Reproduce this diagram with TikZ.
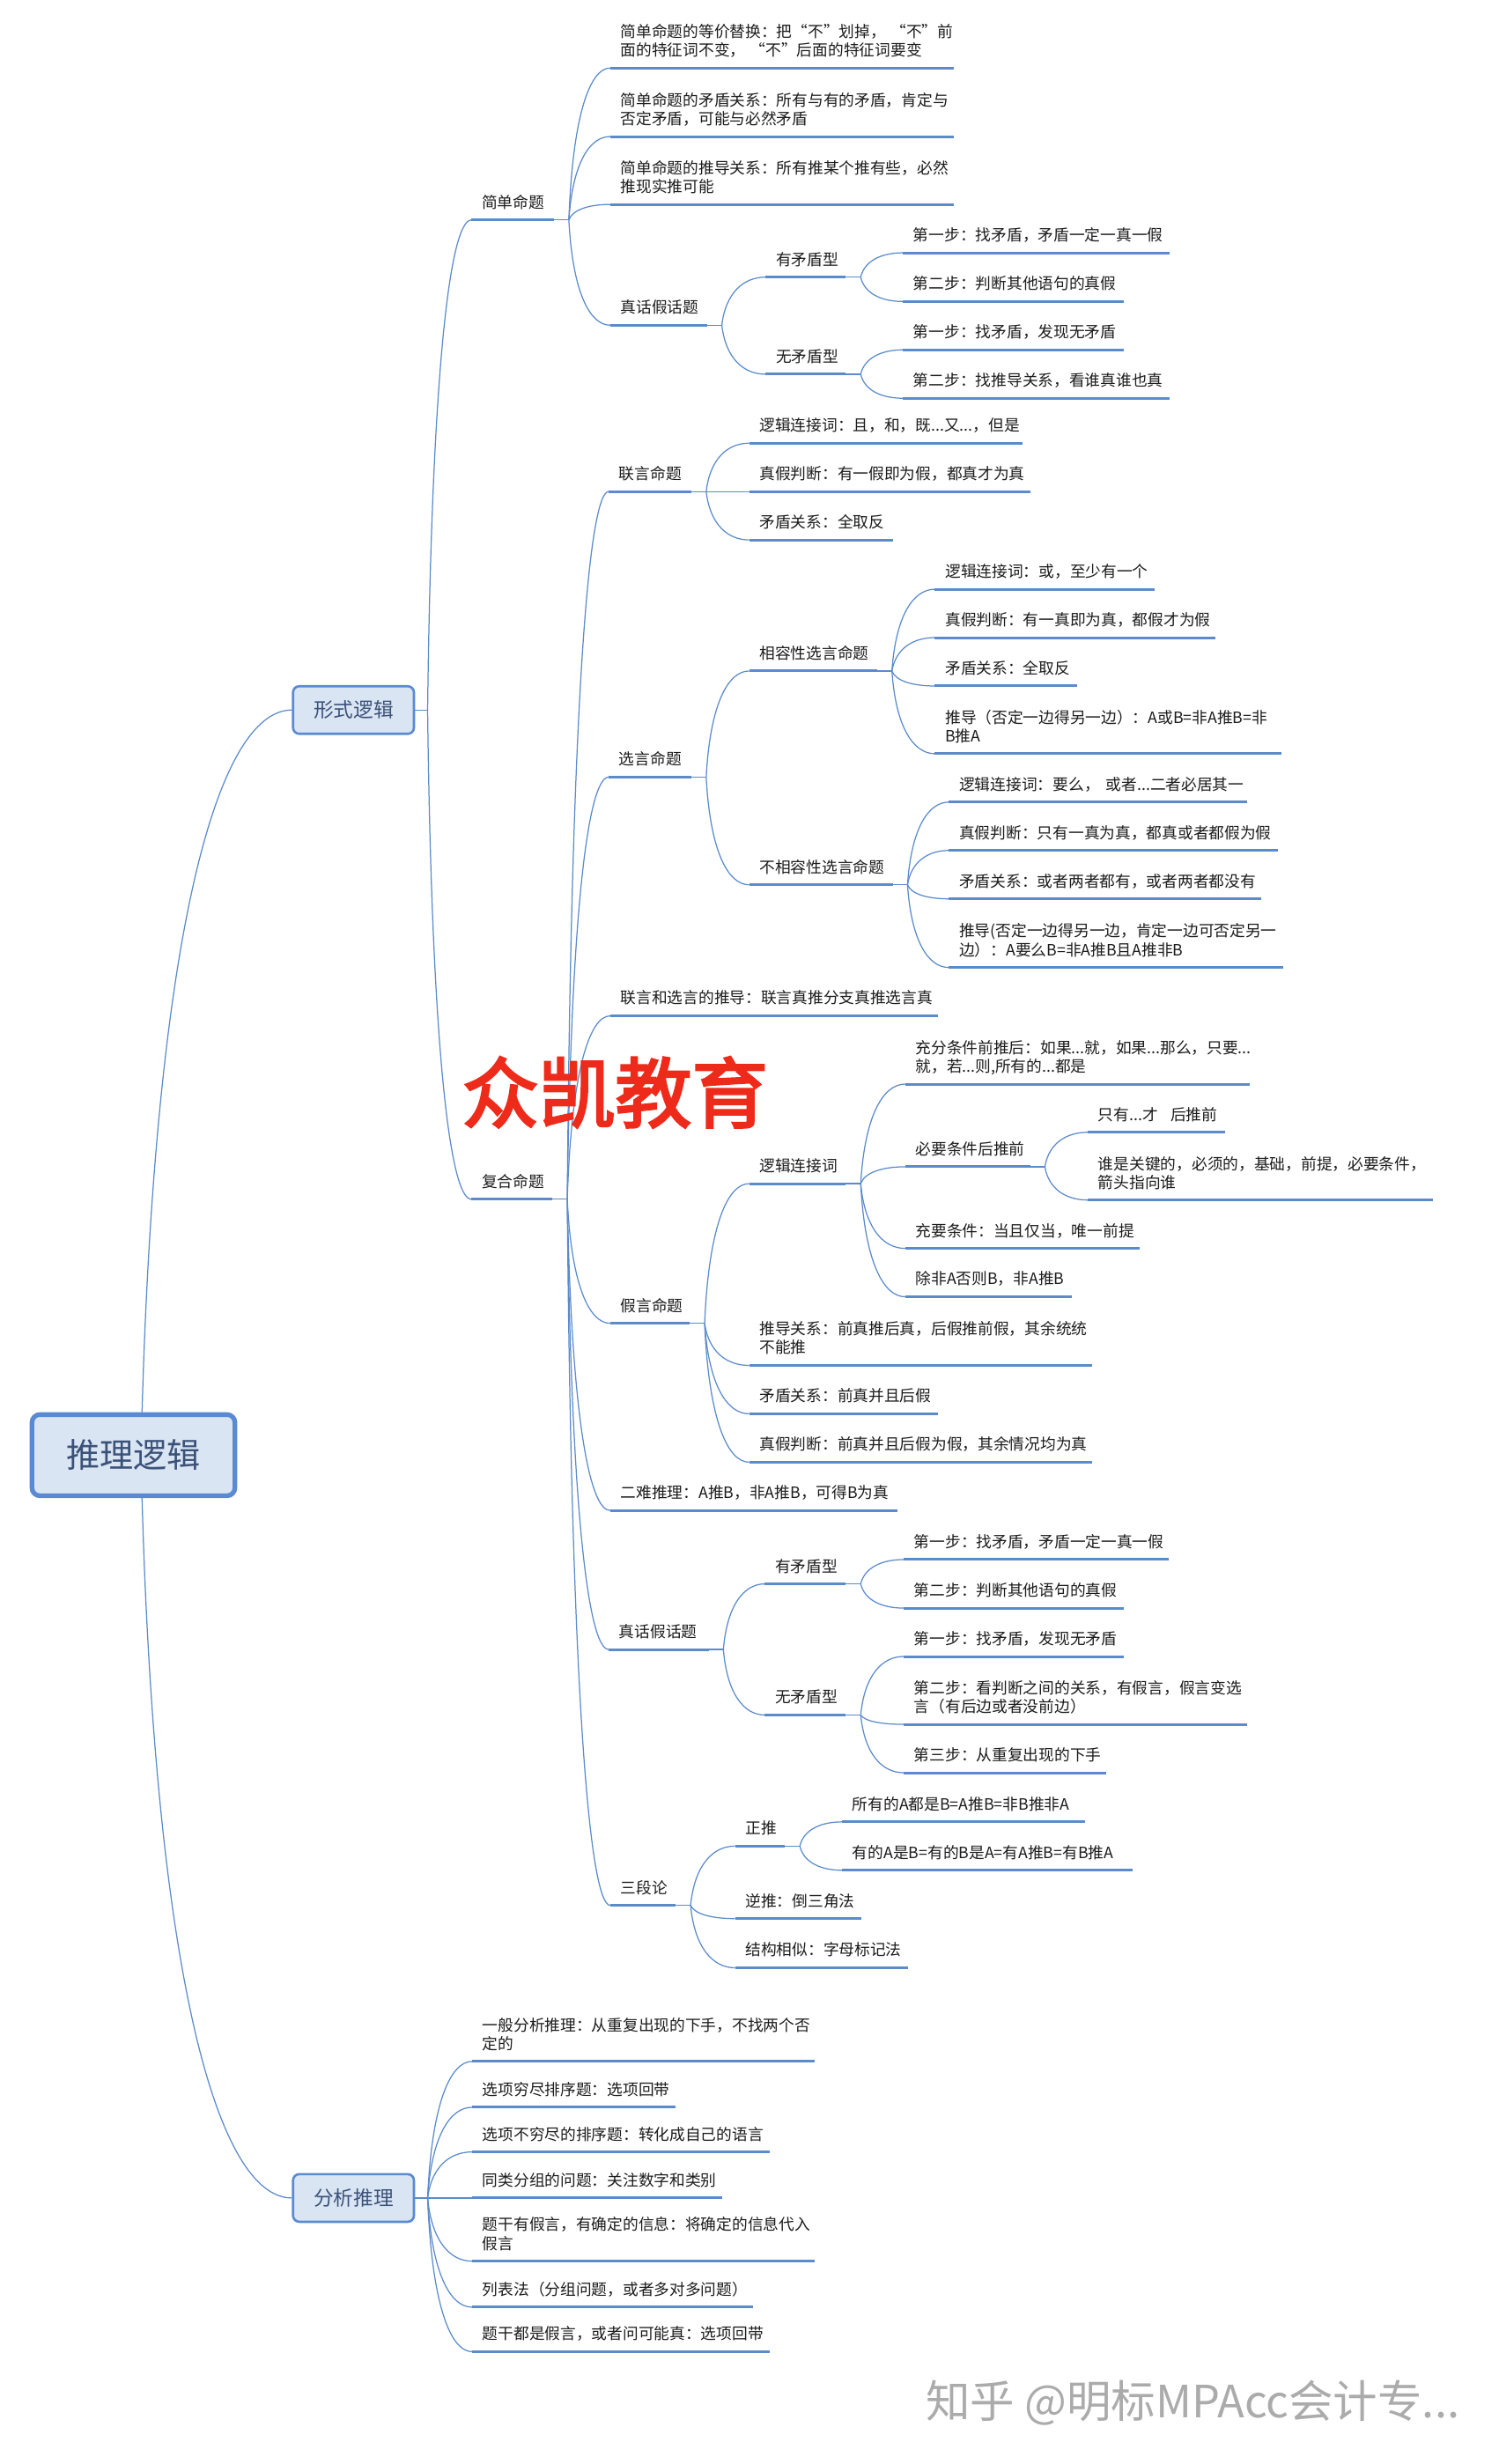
\documentclass[tikz,border=0pt]{standalone}
\usepackage{fontspec}
\newfontfamily\cjk{Noto Sans CJK SC}
\newfontfamily\cjkheavy[FakeBold=3]{Noto Sans CJK SC}
\usetikzlibrary{calc}
\definecolor{lineblue}{HTML}{5B8BCB}
\definecolor{boxfill}{HTML}{DAE5F4}
\definecolor{boxline}{HTML}{5A8BD2}
\definecolor{txt}{HTML}{1C1C1C}
\definecolor{roottxt}{HTML}{3B5278}
\definecolor{logored}{HTML}{EE2A1B}
\definecolor{wmgray}{HTML}{ABABAB}
\tikzset{
  uline/.style={draw=lineblue, line width=1.7pt, line cap=butt},
  conn/.style={draw=lineblue, line width=0.7pt},
  ttext/.style={font=\cjk\fontsize{10}{11.9}\selectfont, text=txt, inner sep=0pt, anchor=south west, align=left},
  rootbox/.style={draw=boxline, line width=3pt, fill=boxfill, rounded corners=5pt, minimum width=130pt, minimum height=52pt, inner sep=0pt, font=\cjk\fontsize{21.5}{24}\selectfont, text=roottxt},
  subbox/.style={draw=boxline, line width=1.5pt, fill=boxfill, rounded corners=4pt, minimum width=77.5pt, minimum height=30.5pt, inner sep=0pt, font=\cjk\fontsize{12.8}{14}\selectfont, text=roottxt},
}
\newcommand\mtopic[5]{%
  \coordinate (#1) at (#2,#4);
  \coordinate (#1-e) at (#3,#4);
  \draw[uline] (#1) -- (#1-e);
  \node[ttext] (#1-t) at ($(#1)+(6.5,-3.9)$) {#5\strut};
}
\newcommand\mjunc[1]{%
  \coordinate (#1-j) at ($(#1-e)+(9.5,0)$);
  \draw[conn] (#1-e) -- (#1-j);
}
\newcommand\tlink[2]{%
  \draw[conn] let \p1=(#1), \p2=(#2) in (\p1) .. controls ({\x1+0.09*(\x2-\x1)},{\y1+0.68*(\y2-\y1)}) and ({0.5*\x1+0.5*\x2},\y2) .. (\p2);
}
\begin{document}
\begin{tikzpicture}[x=1pt,y=-1pt]
\fill[white] (0,0) rectangle (960,1579);
\useasboundingbox (0,0) rectangle (960,1579);

% main boxes
\node[rootbox] (root) at (85.5,932.5) {推理逻辑};
\node[subbox] (xs) at (226.5,455) {形式逻辑};
\node[subbox] (fx) at (226.5,1408.5) {分析推理};
\coordinate (rootN) at ([xshift=5.5pt]root.north);
\coordinate (rootS) at ([xshift=5.5pt]root.south);
\coordinate (xs-j) at ($(xs.east)+(8,0)$);
\coordinate (fx-j) at ($(fx.east)+(8,0)$);
\draw[conn] (xs.east) -- (xs-j);
\draw[conn] (fx.east) -- (fx-j);

% 简单命题
\mtopic{jd}{302}{355}{141}{简单命题}
\mtopic{a1}{391}{611}{43.6}{简单命题的等价替换：把“不”划掉，\hspace{3pt}“不”前\\面的特征词不变，\hspace{3pt}“不”后面的特征词要变}
\mtopic{a2}{391}{611}{87.5}{简单命题的矛盾关系：所有与有的矛盾，肯定与\\否定矛盾，可能与必然矛盾}
\mtopic{a3}{391}{611}{131}{简单命题的推导关系：所有推某个推有些，必然\\推现实推可能}
\mtopic{zh1}{391}{453}{208.4}{真话假话题}
\mtopic{ym1}{490.5}{542}{177.6}{有矛盾型}
\mtopic{s1}{578.5}{749.5}{162}{第一步：找矛盾，矛盾一定一真一假}
\mtopic{s2}{578.5}{720}{193.2}{第二步：判断其他语句的真假}
\mtopic{wm1}{490.5}{542}{239.8}{无矛盾型}
\mtopic{s3}{578.5}{720}{224.2}{第一步：找矛盾，发现无矛盾}
\mtopic{s4}{578.5}{749.5}{255.2}{第二步：找推导关系，看谁真谁也真}

% 复合命题
\mtopic{fh}{302}{354}{768.5}{复合命题}
\mtopic{ly}{390}{443}{315}{联言命题}
\mtopic{ly1}{480}{655}{284}{逻辑连接词：且，和，既...又...，但是}
\mtopic{ly2}{480}{660}{315}{真假判断：有一假即为假，都真才为真}
\mtopic{ly3}{480}{572}{346}{矛盾关系：全取反}
\mtopic{xy}{390}{443}{498}{选言命题}
\mtopic{xr}{480}{562}{430}{相容性选言命题}
\mtopic{xr1}{599}{740}{377.6}{逻辑连接词：或，至少有一个}
\mtopic{xr2}{599}{779}{408.6}{真假判断：有一真即为真，都假才为假}
\mtopic{xr3}{599}{690}{439.6}{矛盾关系：全取反}
\mtopic{xr4}{599}{821}{483}{推导（否定一边得另一边）：A或B=非A推B=非\\B推A}
\mtopic{xb}{480}{572}{567}{不相容性选言命题}
\mtopic{xb1}{608}{799}{514}{逻辑连接词：要么，\hspace{4pt}或者...二者必居其一}
\mtopic{xb2}{608}{819}{545}{真假判断：只有一真为真，都真或者都假为假}
\mtopic{xb3}{608}{808}{576}{矛盾关系：或者两者都有，或者两者都没有}
\mtopic{xb4}{608}{822}{620}{推导(否定一边得另一边，肯定一边可否定另一\\边）：A要么B=非A推B且A推非B}
\mtopic{lx}{391}{601}{651}{联言和选言的推导：联言真推分支真推选言真}
\mtopic{jy}{391}{442}{848}{假言命题}
\mtopic{lj}{480}{542}{758.5}{逻辑连接词}
\mtopic{lj1}{580}{801}{694.7}{充分条件前推后：如果...就，如果...那么，只要...\\就，若...则,所有的...都是}
\mtopic{lj2}{580}{660}{747.7}{必要条件后推前}
\mtopic{lj2a}{697}{785}{725.6}{只有...才\hspace{8pt}后推前}
\mtopic{lj2b}{697}{918}{769}{谁是关键的，必须的，基础，前提，必要条件，\\箭头指向谁}
\mtopic{lj3}{580}{730}{800}{充要条件：当且仅当，唯一前提}
\mtopic{lj4}{580}{687}{831}{除非A否则B，非A推B}
\mtopic{jy1}{480}{700}{875}{推导关系：前真推后真，后假推前假，其余统统\\不能推}
\mtopic{jy2}{480}{601}{906}{矛盾关系：前真并且后假}
\mtopic{jy3}{480}{700}{937}{真假判断：前真并且后假为假，其余情况均为真}
\mtopic{en}{391}{575}{968}{二难推理：A推B，非A推B，可得B为真}
\mtopic{zh2}{390}{454}{1057}{真话假话题}
\mtopic{ym2}{490}{542}{1015}{有矛盾型}
\mtopic{t1}{579}{749}{999.4}{第一步：找矛盾，矛盾一定一真一假}
\mtopic{t2}{579}{720}{1030.5}{第二步：判断其他语句的真假}
\mtopic{wm2}{490}{542}{1099}{无矛盾型}
\mtopic{t3}{579}{720}{1061.5}{第一步：找矛盾，发现无矛盾}
\mtopic{t4}{579}{799}{1105}{第二步：看判断之间的关系，有假言，假言变选\\言（有后边或者没前边）}
\mtopic{t5}{579}{709}{1136}{第三步：从重复出现的下手}
\mtopic{sd}{391}{433}{1221}{三段论}
\mtopic{zt}{471}{503}{1183}{正推}
\mtopic{zt1}{539.5}{695}{1167.5}{所有的A都是B=A推B=非B推非A}
\mtopic{zt2}{539.5}{726}{1198.5}{有的A是B=有的B是A=有A推B=有B推A}
\mtopic{nt}{471}{552}{1229.5}{逆推：倒三角法}
\mtopic{jg}{471}{582}{1261}{结构相似：字母标记法}

% 分析推理
\mtopic{f1}{302.5}{522}{1321}{一般分析推理：从重复出现的下手，不找两个否\\定的}
\mtopic{f2}{302.5}{433}{1350.4}{选项穷尽排序题：选项回带}
\mtopic{f3}{302.5}{493}{1379}{选项不穷尽的排序题：转化成自己的语言}
\mtopic{f4}{302.5}{463}{1408.5}{同类分组的问题：关注数字和类别}
\mtopic{f5}{302.5}{522}{1449}{题干有假言，有确定的信息：将确定的信息代入\\假言}
\mtopic{f6}{302.5}{482.5}{1478.5}{列表法（分组问题，或者多对多问题）}
\mtopic{f7}{302.5}{493}{1507}{题干都是假言，或者问可能真：选项回带}

% junctions
\mjunc{jd}\mjunc{zh1}\mjunc{ym1}\mjunc{wm1}
\mjunc{fh}\mjunc{ly}\mjunc{xy}\mjunc{xr}\mjunc{xb}\mjunc{jy}\mjunc{lj}\mjunc{lj2}
\mjunc{zh2}\mjunc{ym2}\mjunc{wm2}\mjunc{sd}\mjunc{zt}

% links
\tlink{rootN}{xs.west}
\tlink{rootS}{fx.west}
\tlink{xs-j}{jd}\tlink{xs-j}{fh}
\tlink{jd-j}{a1}\tlink{jd-j}{a2}\tlink{jd-j}{a3}\tlink{jd-j}{zh1}
\tlink{zh1-j}{ym1}\tlink{zh1-j}{wm1}
\tlink{ym1-j}{s1}\tlink{ym1-j}{s2}
\tlink{wm1-j}{s3}\tlink{wm1-j}{s4}
\tlink{fh-j}{ly}\tlink{fh-j}{xy}\tlink{fh-j}{lx}\tlink{fh-j}{jy}\tlink{fh-j}{en}\tlink{fh-j}{zh2}\tlink{fh-j}{sd}
\tlink{ly-j}{ly1}\tlink{ly-j}{ly2}\tlink{ly-j}{ly3}
\tlink{xy-j}{xr}\tlink{xy-j}{xb}
\tlink{xr-j}{xr1}\tlink{xr-j}{xr2}\tlink{xr-j}{xr3}\tlink{xr-j}{xr4}
\tlink{xb-j}{xb1}\tlink{xb-j}{xb2}\tlink{xb-j}{xb3}\tlink{xb-j}{xb4}
\tlink{jy-j}{lj}\tlink{jy-j}{jy1}\tlink{jy-j}{jy2}\tlink{jy-j}{jy3}
\tlink{lj-j}{lj1}\tlink{lj-j}{lj2}\tlink{lj-j}{lj3}\tlink{lj-j}{lj4}
\tlink{lj2-j}{lj2a}\tlink{lj2-j}{lj2b}
\tlink{zh2-j}{ym2}\tlink{zh2-j}{wm2}
\tlink{ym2-j}{t1}\tlink{ym2-j}{t2}
\tlink{wm2-j}{t3}\tlink{wm2-j}{t4}\tlink{wm2-j}{t5}
\tlink{sd-j}{zt}\tlink{sd-j}{nt}\tlink{sd-j}{jg}
\tlink{zt-j}{zt1}\tlink{zt-j}{zt2}
\tlink{fx-j}{f1}\tlink{fx-j}{f2}\tlink{fx-j}{f3}\tlink{fx-j}{f4}\tlink{fx-j}{f5}\tlink{fx-j}{f6}\tlink{fx-j}{f7}

% logo and watermark
\node[anchor=west, inner sep=0pt, text=logored, font=\cjkheavy\fontsize{49}{52}\selectfont] (logo) at (296,700) {众凯教育};
\node[anchor=west, inner sep=0pt, text=wmgray, font=\cjk\fontsize{28.5}{31}\selectfont] (wmark) at (593,1540) {知乎 @明标MPAcc会计专...};
\end{tikzpicture}
\end{document}
